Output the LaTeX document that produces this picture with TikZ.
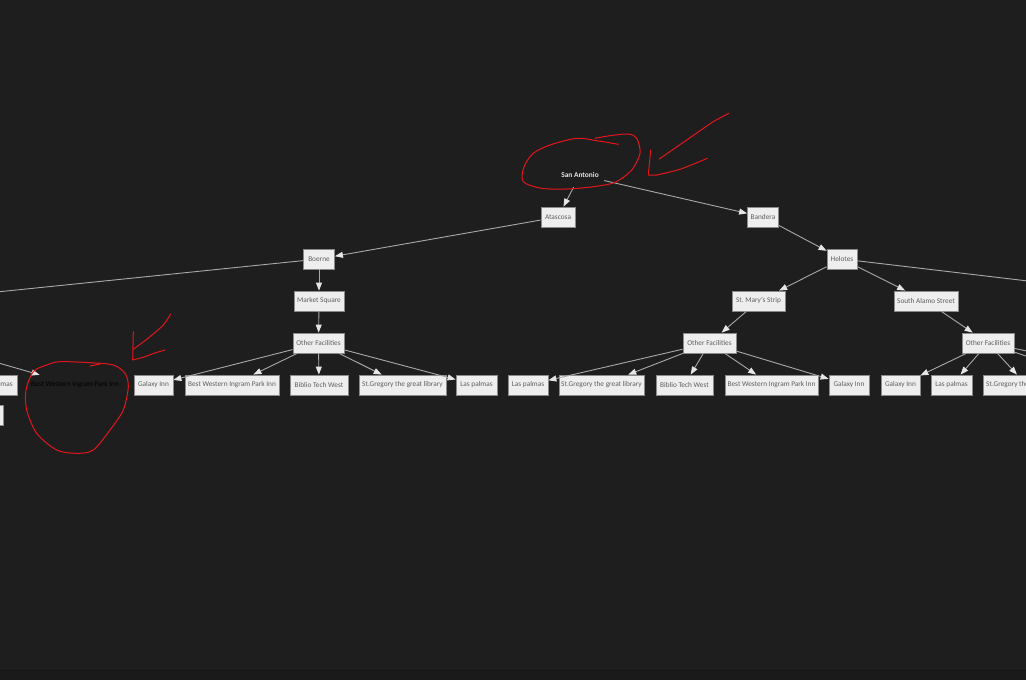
\documentclass[tikz,border=0pt]{standalone}
\usepackage{fontspec}
\setmainfont{Carlito}
\usetikzlibrary{arrows.meta}
\definecolor{bg}{HTML}{1E1E1E}
\definecolor{boxfill}{HTML}{EEEEEE}
\definecolor{boxline}{HTML}{8A8A8A}
\definecolor{txt}{HTML}{5E5E5E}
\definecolor{edgec}{HTML}{A9A9A9}
\definecolor{tipc}{HTML}{E6E6E6}
\definecolor{scrib}{HTML}{E3161C}
\definecolor{band}{HTML}{1A1A1A}
\definecolor{bandline}{HTML}{141414}
\frenchspacing
\begin{document}
\begin{tikzpicture}[x=1pt,y=-1pt,
  box/.style={draw=boxline,fill=boxfill,text=txt,font=\fontsize{7.3}{8}\selectfont,
    minimum height=20pt,inner sep=0pt,line width=0.8pt},
  ghost/.style={draw=none,fill=none,text=black,font=\fontsize{7.3}{8}\selectfont,
    minimum height=20pt,inner sep=0pt},
  root/.style={draw=none,text=tipc,font=\bfseries\fontsize{7.4}{8}\selectfont,
    minimum width=48pt,minimum height=24pt,inner sep=0pt},
  link/.style={draw=edgec,line width=0.9pt,-{Triangle[length=8pt,width=6pt,color=tipc]}},
  scribble/.style={draw=scrib,line width=1pt,line cap=round,line join=round}
]
\clip (0,0) rectangle (1026,680);
\fill[bg] (0,0) rectangle (1026,680);
\fill[band] (0,670) rectangle (1026,680);
\draw[bandline,line width=1pt] (0,670.5) -- (1026,670.5);

% nodes
\node[root] (sa) at (580,175) {San Antonio};
\node[box,minimum width=34pt] (ata) at (558,217) {Atascosa};
\node[box,minimum width=31pt] (ban) at (763,217) {Bandera};
\node[box,minimum width=31pt] (boe) at (319,259) {Boerne};
\node[box,minimum width=30pt] (hel) at (842,259) {Helotes};
\node[box,minimum width=50pt] (ms) at (319,301) {Market Square};
\node[box,minimum width=53pt] (smy) at (758.5,301) {St. Mary's Strip};
\node[box,minimum width=64pt] (sal) at (926,301) {South Alamo Street};
\node[box,minimum width=51pt] (ofl) at (318.5,343) {Other Facilities};
\node[box,minimum width=53pt] (ofm) at (709.5,343) {Other Facilities};
\node[box,minimum width=52pt] (ofr) at (988,343) {Other Facilities};

\node[box,minimum width=41pt] (l1) at (-3.5,385) {Las palmas};
\node[ghost,minimum width=94pt] (l2) at (75,385) {Best Western Ingram Park Inn};
\node[box,minimum width=39pt] (l3) at (153.5,385) {Galaxy Inn};
\node[box,minimum width=94pt] (l4) at (232,385) {Best Western Ingram Park Inn};
\node[box,minimum width=58pt] (l5) at (319,385) {Biblio Tech West};
\node[box,minimum width=87pt] (l6) at (402.5,385) {St.Gregory the great library};
\node[box,minimum width=41pt] (l7) at (476.5,385) {Las palmas};

\node[box,minimum width=40pt] (m1) at (528,385) {Las palmas};
\node[box,minimum width=85pt] (m2) at (601.5,385) {St.Gregory the great library};
\node[box,minimum width=57pt] (m3) at (684.5,385) {Biblio Tech West};
\node[box,minimum width=93pt] (m4) at (771.5,385) {Best Western Ingram Park Inn};
\node[box,minimum width=40pt] (m5) at (849,385) {Galaxy Inn};

\node[box,minimum width=39pt] (r1) at (900.5,385) {Galaxy Inn};
\node[box,minimum width=41pt] (r2) at (951.5,385) {Las palmas};
\node[box,minimum width=87pt] (r3) at (1026.5,385) {St.Gregory the great library};
\node[box,minimum width=57pt] (r4) at (1110,385) {Biblio Tech West};
\node[box,minimum width=93pt] (r5) at (1192,385) {Best Western Ingram Park Inn};

\node[box,minimum width=43pt] (lx) at (-18.5,415) {};

\coordinate (offA) at (-91,301);
\coordinate (offB) at (-71,343);
\coordinate (offC) at (1197,301);

% connectors
\draw[link] (sa) -- (ata);
\draw[link] (sa) -- (ban);
\draw[link] (ata) -- (boe);
\draw[link] (ban) -- (hel);
\draw[link] (boe) -- (offA);
\draw[link] (boe) -- (ms);
\draw[link] (ms) -- (ofl);
\draw[link] (offB) -- (l2);
\foreach \t in {l3,l4,l5,l6,l7} \draw[link] (ofl) -- (\t);
\draw[link] (hel) -- (smy);
\draw[link] (hel) -- (sal);
\draw[link] (hel) -- (offC);
\draw[link] (smy) -- (ofm);
\draw[link] (sal) -- (ofr);
\foreach \t in {m1,m2,m3,m4,m5} \draw[link] (ofm) -- (\t);
\foreach \t in {r1,r2,r3,r4,r5} \draw[link] (ofr) -- (\t);

% red hand-drawn annotations
\draw[scribble] plot[smooth] coordinates {(618.3,144.3) (596.7,140.7) (576.7,138.3) (550,145) (533.3,153.3) (524,166.7) (523.3,181.7) (541.7,188.3) (566.7,189) (593.3,186.7) (615,182.3) (631.7,170) (640,153.3) (636.7,138.3) (628.3,134) (610,135.7) (595,138.3)};
\draw[scribble] plot[smooth] coordinates {(729,113.3) (713.3,121.7) (686.7,140) (659.3,159)};
\draw[scribble] (650.7,150) -- (648.3,175) -- (656.7,175);
\draw[scribble] plot[smooth] coordinates {(656.7,175) (680,169.3) (707.3,158.3)};
\draw[scribble] plot[smooth cycle] coordinates {(60,361.7) (90,362.7) (113.3,365) (125,373.3) (128.3,386.7) (123.3,410) (110,430) (93.3,450) (76.7,453.3) (56.7,450) (36.7,433.3) (26.7,410) (26,390) (33.3,371.7) (46.7,365)};
\draw[scribble] (90,366) -- (100,364);
\draw[scribble] plot[smooth] coordinates {(170.7,314) (163.3,325) (150,336.7) (133.3,349.3)};
\draw[scribble] (133.3,331.7) -- (132.7,360) -- (143.3,357.3);
\draw[scribble] plot[smooth] coordinates {(143.3,357.3) (155,353) (165,350)};
\end{tikzpicture}
\end{document}
